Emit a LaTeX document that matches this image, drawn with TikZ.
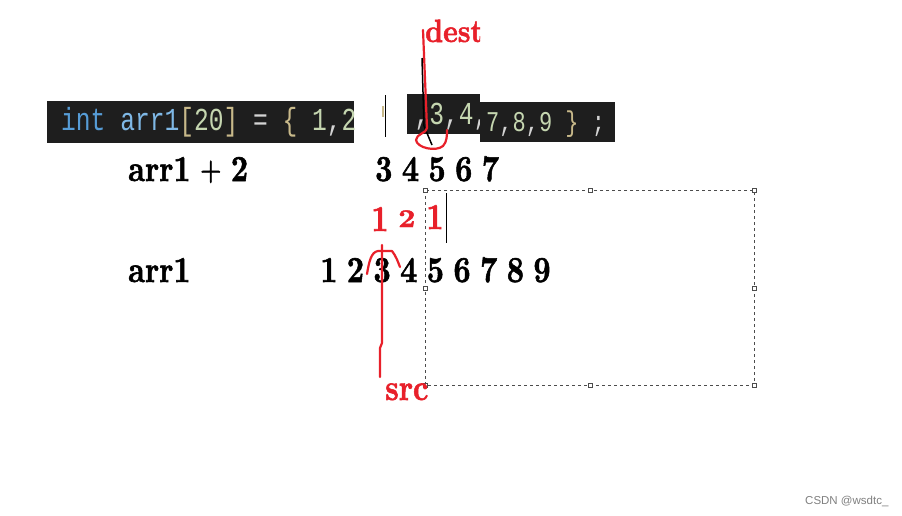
\documentclass[tikz,border=0pt]{standalone}
\usepackage{fontspec}
\newfontfamily\codefont{Liberation Mono}
\newfontfamily\wmfont{Liberation Sans}
\newfontfamily\lmbold{lmroman10-bold.otf}[RawFeature={embolden=1.6}]
\definecolor{codebg}{HTML}{1E1E1E}
\definecolor{kw}{HTML}{569CD6}
\definecolor{var}{HTML}{7FB8E6}
\definecolor{num}{HTML}{C5D6B0}
\definecolor{pun}{HTML}{D4D4D4}
\definecolor{brc}{HTML}{C8B98A}
\definecolor{inkred}{HTML}{E8202A}
\newcommand\tallT[1]{\scalebox{1}[1.22]{\spaceskip=9.4pt\relax #1}}
\newcommand\tallC[1]{\scalebox{1}[1.3]{#1}}
\tikzset{
  bigtxt/.style={inner sep=0pt, anchor=base west, font=\lmbold\fontsize{30}{32}\selectfont},
  redtxt/.style={bigtxt, text=inkred},
  codetxt/.style={inner sep=0pt, anchor=base west, font=\fontsize{24.6}{26}\selectfont\codefont},
  codetxtb/.style={inner sep=0pt, anchor=base west, font=\fontsize{22}{24}\selectfont\codefont},
  redpen/.style={draw=inkred, line width=2.2pt, line cap=round, line join=round},
  handle/.style={draw=black!70, fill=white, line width=0.5pt, minimum size=4pt, inner sep=0pt},
}
\begin{document}
\begin{tikzpicture}[x=1pt,y=-1pt]
\useasboundingbox[fill=white] (0,0) rectangle (902,515);
% code strips
\fill[codebg] (47,101) rectangle (354,143);
\begin{scope}
\clip (47,101) rectangle (354,143);
\node[codetxt] (code1) at (61,130) {\tallC{\textcolor{kw}{int} \textcolor{var}{arr1}\textcolor{brc}{[}\textcolor{num}{20}\textcolor{brc}{]} \textcolor{pun}{=} \textcolor{brc}{\{} \textcolor{num}{1}\textcolor{pun}{,}\textcolor{num}{2}}};
\end{scope}
\draw[black, line width=1pt] (385,95) -- (385,137);
\fill[brc] (382,106) rectangle (383.5,117);
\fill[codebg] (407,94) rectangle (480,134);
\begin{scope}
\clip (407,94) rectangle (480,134);
\node[codetxt] (code2) at (414.3,124) {\tallC{\textcolor{pun}{,}\textcolor{num}{3}\textcolor{pun}{,}\textcolor{num}{4}\textcolor{pun}{,}}};
\end{scope}
\fill[codebg] (480,102) rectangle (615,142);
\node[codetxtb] (code3) at (486,131) {\tallC{\textcolor{num}{7}\textcolor{pun}{,}\textcolor{num}{8}\textcolor{pun}{,}\textcolor{num}{9} \textcolor{brc}{\}} \textcolor{pun}{;}}};
% dest
\begin{scope}
\clip (420,10) rectangle (480,50);
\node[redtxt, font=\lmbold\fontsize{28}{30}\selectfont] (dest) at (425,42) {\scalebox{1}[1.15]{dest}};
\end{scope}
\draw[black, line width=1.5pt] (422,58) -- (424,126) -- (432,145);
\draw[redpen] (423,30) -- (427,128) .. controls (427,133) and (416,134) .. (416,140) .. controls (417,148) and (436,152) .. (443,146) .. controls (447,142) and (447,135) .. (447,130);
% rows
\node[bigtxt] (lbl1) at (128,181) {\tallT{arr1 \raisebox{1.5pt}{\scalebox{0.8}{+}} 2}};
\node[bigtxt] (row1) at (375,181) {\tallT{3 4 5 6 7}};
\node[bigtxt] (lbl2) at (128,282) {\tallT{arr1}};
\node[bigtxt] (row2) at (320,282) {\tallT{1 2 3 4 5 6 7 8 9}};
% dashed selection box
\draw[black!70, dashed, line width=0.6pt] (425,190) rectangle (754,385);
\foreach \p/\n in {{425,190}/h1,{590,190}/h2,{754,190}/h3,{425,288}/h4,{754,288}/h5,{425,385}/h6,{590,385}/h7,{754,385}/h8}
  \node[handle] (\n) at (\p) {};
% red counts
\node[redtxt] (c1) at (371,231) {\tallT{1}};
\node[redtxt] (c2) at (398,227) {\scalebox{1}[0.85]{2}};
\node[redtxt] (c3) at (426,229) {\tallT{1}};
\draw[black, line width=1pt] (446,193) -- (446,243);
% src marks
\draw[redpen] (367,274) .. controls (369,262) and (371,252) .. (378,251) -- (392,251) .. controls (396,256) and (398,262) .. (400,267);
\draw[redpen] (382,245) -- (382,343) -- (380,348) -- (380,377);
\node[redtxt] (src) at (385,400) {\tallT{src}};
% watermark
\node[inner sep=0pt, anchor=base west, font=\fontsize{11.5}{13}\selectfont\wmfont, text=black!50] (wm) at (805,504) {CSDN @wsdtc\_};
\end{tikzpicture}
\end{document}
